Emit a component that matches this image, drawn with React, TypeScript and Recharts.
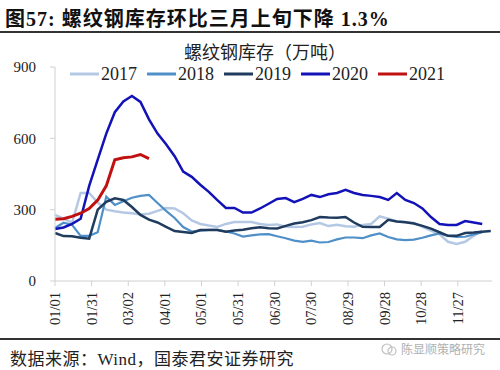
import { LineChart, Line, XAxis, YAxis } from "recharts";

// 周度数据：距 1 月 1 日的天数
const weekDays = [
  0, 7, 14, 21, 28, 35, 42, 49, 56, 63, 70, 77, 84, 91, 98, 105, 112, 119, 126, 133,
  140, 147, 154, 161, 168, 175, 182, 189, 196, 203, 210, 217, 224, 231, 238, 245, 252,
  259, 266, 273, 280, 287, 294, 301, 308, 315, 322, 329, 336, 343, 350, 357,
];

const inv2017 = [
  278, 262, 245, 370, 370, 330, 300, 293, 288, 285, 280, 283, 295, 307, 305, 285, 255,
  240, 233, 227, 240, 248, 248, 248, 240, 236, 238, 228, 227, 228, 238, 244, 231, 236,
  230, 228, 236, 240, 272, 262, 250, 248, 244, 228, 212, 196, 165, 156, 165, 190, 212,
];
const inv2018 = [
  223, 245, 236, 190, 190, 205, 355, 320, 335, 350, 358, 362, 328, 295, 265, 227, 208,
  212, 215, 215, 208, 200, 187, 192, 196, 197, 188, 180, 170, 165, 170, 162, 164, 175,
  183, 183, 180, 192, 200, 185, 175, 172, 174, 182, 192, 200, 190, 185, 186, 196, 205,
];
const inv2019 = [
  202, 189, 188, 182, 178, 300, 333, 348, 341, 311, 278, 258, 246, 228, 210, 206, 202,
  214, 215, 214, 207, 212, 216, 222, 226, 222, 221, 232, 242, 247, 256, 269, 267, 266,
  269, 246, 228, 227, 227, 257, 250, 247, 242, 232, 220, 205, 190, 190, 202, 204, 207, 210,
];
const inv2020 = [
  219, 225, 240, 262, 400, 510, 620, 710, 755, 778, 753, 680, 620, 575, 525, 460, 438,
  405, 375, 340, 307, 307, 288, 288, 305, 325, 345, 349, 332, 345, 362, 353, 365, 370,
  383, 370, 362, 358, 353, 341, 370, 341, 328, 305, 269, 240, 236, 236, 252, 246, 240,
];
const inv2021 = [260, 262, 272, 285, 305, 340, 400, 510, 518, 522, 532, 515];

const tickDays = [0, 30, 60, 90, 120, 150, 180, 210, 240, 270, 300, 330];
const tickLabels = [
  "01/01", "01/31", "03/02", "04/01", "05/01", "05/31",
  "06/30", "07/30", "08/29", "09/28", "10/28", "11/27",
];

const seriesList = [
  { key: "2017", values: inv2017, color: "#B4C8E4", width: 2.5 },
  { key: "2018", values: inv2018, color: "#4F90C8", width: 2.2 },
  { key: "2019", values: inv2019, color: "#1F3B5E", width: 2.5 },
  { key: "2020", values: inv2020, color: "#1212B8", width: 2.5 },
  { key: "2021", values: inv2021, color: "#C01010", width: 3 },
];

const data = weekDays.map((d, i) => {
  const row: Record<string, number | undefined> = { d };
  seriesList.forEach((s) => {
    row[s.key] = s.values[i];
  });
  return row;
});

const serif = '"Liberation Serif", "Noto Sans CJK SC", serif';

function XTick(props: any) {
  const { x, y, payload } = props;
  const idx = tickDays.indexOf(payload.value);
  const ax = x + 5;
  const ay = y + 4;
  return (
    <text
      x={ax}
      y={ay}
      transform={`rotate(-90 ${ax} ${ay})`}
      textAnchor="end"
      fontSize={14.5}
      fontFamily={serif}
      fill="#222"
    >
      {tickLabels[idx]}
    </text>
  );
}

export default function App() {
  return (
    <div style={{ position: "fixed", left: 0, top: 0, width: 500, height: 370, background: "#fff", overflow: "hidden" }}>
      <div
        style={{
          position: "absolute", left: 5, top: 3, fontFamily: serif, fontWeight: "bold",
          fontSize: 20, letterSpacing: 1, color: "#111", whiteSpace: "nowrap",
        }}
      >
        图57: 螺纹钢库存环比三月上旬下降 1.3%
      </div>
      <div style={{ position: "absolute", left: 0, top: 31, width: 500, height: 2, background: "#333" }} />
      <div
        style={{
          position: "absolute", left: 0, top: 43, width: 530, textAlign: "center",
          fontFamily: serif, fontSize: 18, lineHeight: "20px", color: "#222",
        }}
      >
        螺纹钢库存（万吨）
      </div>

      {/* 图例 */}
      <div
        style={{
          position: "absolute", left: 70, top: 64, height: 20, display: "flex",
          fontFamily: serif, fontSize: 18, lineHeight: "20px", color: "#222",
        }}
      >
        {seriesList.map((s) => (
          <div key={s.key} style={{ display: "flex", alignItems: "center", marginRight: 10 }}>
            <svg width={29} height={6} style={{ marginRight: 2 }}>
              <line x1={0} y1={3} x2={29} y2={3} stroke={s.color} strokeWidth={3} />
            </svg>
            <span>{s.key}</span>
          </div>
        ))}
      </div>

      <div style={{ position: "absolute", left: 0, top: 0 }}>
        <LineChart width={500} height={340} data={data} margin={{ top: 67, right: 8, left: 0, bottom: 0 }}>
          <XAxis
            dataKey="d"
            type="number"
            domain={[0, 358]}
            ticks={tickDays}
            interval={0}
            height={59}
            stroke="#D0D0D0"
            tickSize={5}
            tick={<XTick />}
          />
          <YAxis
            type="number"
            domain={[0, 900]}
            ticks={[0, 300, 600, 900]}
            width={55}
            stroke="#D0D0D0"
            tickSize={5}
            tickMargin={14}
            tick={{ fontSize: 15, fontFamily: serif, fill: "#222" }}
          />
          {seriesList.map((s) => (
            <Line
              key={s.key}
              dataKey={s.key}
              stroke={s.color}
              strokeWidth={s.width}
              dot={false}
              activeDot={false}
              isAnimationActive={false}
              type="linear"
            />
          ))}
        </LineChart>
      </div>

      <div style={{ position: "absolute", left: 0, top: 338, width: 500, height: 2, background: "#333" }} />
      <div
        style={{
          position: "absolute", left: 10, top: 345, fontFamily: serif, fontSize: 17,
          letterSpacing: 0.5, color: "#222", whiteSpace: "nowrap",
        }}
      >
        数据来源：Wind，国泰君安证券研究
      </div>
      <div
        style={{
          position: "absolute", left: 380, top: 340, fontFamily: '"Noto Sans CJK SC", sans-serif',
          fontSize: 12, color: "#B0B0B0", whiteSpace: "nowrap", display: "flex", alignItems: "center",
        }}
      >
        <svg width={18} height={14} style={{ marginRight: 3 }}>
          <circle cx={7} cy={7} r={5} fill="none" stroke="#C0C0C0" strokeWidth={1.2} />
          <circle cx={12} cy={9} r={4} fill="none" stroke="#C0C0C0" strokeWidth={1.2} />
        </svg>
        陈显顺策略研究
      </div>
    </div>
  );
}
